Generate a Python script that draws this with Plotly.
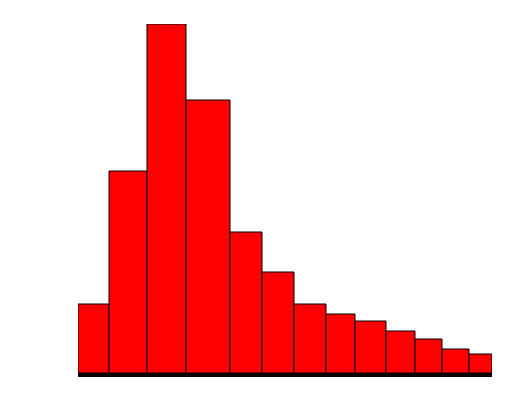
import plotly.graph_objects as go

# bin edges and counts
bin_edges = [0, 31, 69, 108, 152, 184, 216, 248, 277, 308, 337, 364, 391, 414]
counts = [69, 202, 349, 273, 141, 101, 69, 59, 52, 42, 34, 24, 19]

centers = [(a + b) / 2 for a, b in zip(bin_edges[:-1], bin_edges[1:])]
widths = [b - a for a, b in zip(bin_edges[:-1], bin_edges[1:])]

fig = go.Figure(go.Bar(
    x=centers, y=counts, width=widths,
    marker=dict(color="#ff0000", line=dict(color="black", width=1)),
))
fig.update_layout(
    width=521, height=400,
    margin=dict(l=70, r=37, t=16, b=35),
    plot_bgcolor="white", paper_bgcolor="white",
    showlegend=False,
    xaxis=dict(range=[bin_edges[0], bin_edges[-1]], showgrid=False, zeroline=False,
               showticklabels=False, ticks="", showline=True, linecolor="black", linewidth=4),
    yaxis=dict(range=[0, max(counts)], showgrid=False, zeroline=False,
               showticklabels=False, ticks="", showline=False),
)
fig.write_html("out.html")
